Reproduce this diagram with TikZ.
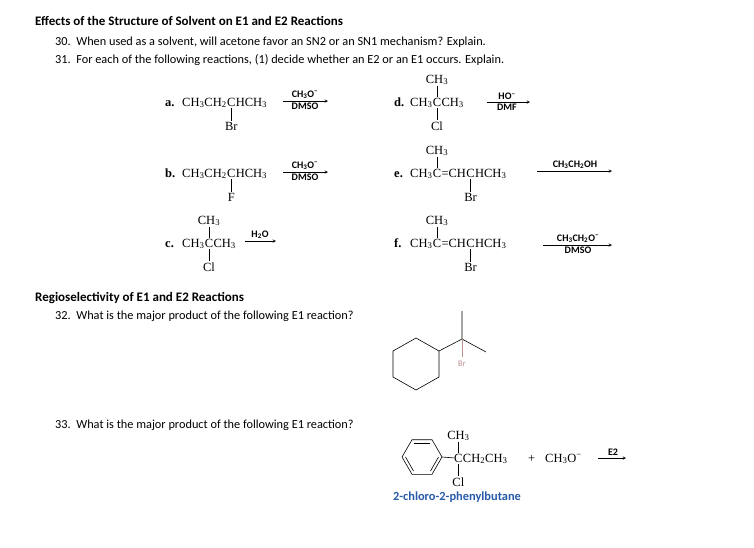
\documentclass[tikz,border=0pt]{standalone}
\usepackage{fontspec}
\setmainfont{Carlito}
\newfontfamily\chem{Liberation Serif}
\newcommand{\sbs}[1]{\textsubscript{#1}}
\newcommand{\sps}[1]{\textsuperscript{#1}}
\begin{document}
\begin{tikzpicture}[x=1pt,y=-1pt,
  ch/.style={inner sep=0pt,font=\chem\fontsize{12.5}{14}\selectfont,anchor=base west},
  chc/.style={inner sep=0pt,font=\chem\fontsize{12.5}{14}\selectfont,anchor=base},
  lab/.style={inner sep=0pt,font=\chem\bfseries\fontsize{12.5}{14}\selectfont,anchor=base west},
  rg/.style={inner sep=2pt,font=\bfseries\fontsize{10}{11}\selectfont},
  q/.style={inner sep=0pt,anchor=base west,font=\fontsize{12.3}{14}\selectfont},
  hd/.style={inner sep=0pt,anchor=base west,font=\bfseries\fontsize{13}{15}\selectfont},
  bd/.style={line width=0.5pt},
  rx/.style={->,line width=0.5pt,>=stealth},
  sk/.style={line width=0.6pt}]
\useasboundingbox (0,0) rectangle (754,547);
\fill[white] (0,0) rectangle (754,547);
\node[hd] (h1) at (35,25) {Effects of the Structure of Solvent on E1 and E2 Reactions};
\node[q] (q30) at (55,45) {30.\ \ When used as a solvent, will acetone favor an SN2 or an SN1 mechanism? Explain.};
\node[q] (q31) at (55,63) {31.\ \ For each of the following reactions, (1) decide whether an E2 or an E1 occurs. Explain.};
% a
\node[lab] (la) at (165,106) {a.};
\node[ch] (a1) at (182,106) {CH\sbs3CH\sbs2};
\node[ch] (a2) at (a1.base east) {C};
\node[ch] (a3) at (a2.base east) {HCH\sbs3};
\node[chc] (abr) at ([yshift=-24]a2.base) {Br};
\draw[bd] ([yshift=-2]a2.south) -- ([yshift=1]abr.north);
\draw[rx] (283,101) -- (328,101);
\node[rg,above] at (305,101) {CH\sbs3O\sps{\textminus}};
\node[rg,below] at (305,101) {DMSO};
% b
\node[lab] (lb) at (165,177) {b.};
\node[ch] (b1) at (182,177) {CH\sbs3CH\sbs2};
\node[ch] (b2) at (b1.base east) {C};
\node[ch] (b3) at (b2.base east) {HCH\sbs3};
\node[chc] (bf) at ([yshift=-24]b2.base) {F};
\draw[bd] ([yshift=-2]b2.south) -- ([yshift=1]bf.north);
\draw[rx] (283,172) -- (328,172);
\node[rg,above] at (305,172) {CH\sbs3O\sps{\textminus}};
\node[rg,below] at (305,172) {DMSO};
% c
\node[lab] (lc) at (165,247) {c.};
\node[ch] (c1) at (182,247) {CH\sbs3};
\node[ch] (c2) at (c1.base east) {C};
\node[ch] (c3) at (c2.base east) {CH\sbs3};
\node[chc] (ccl) at ([yshift=-24]c2.base) {Cl};
\node[chc] (cme) at ([yshift=23]c2.base) {CH\sbs3};
\draw[bd] ([yshift=-2]c2.south) -- ([yshift=1]ccl.north);
\draw[bd] ([yshift=1]c2.north) -- ([yshift=-1]cme.south);
\draw[rx] (245,241) -- (276,241);
\node[rg,above] at (260,241) {H\sbs2O};
% d
\node[lab] (ld) at (394,106) {d.};
\node[ch] (d1) at (410,106) {CH\sbs3};
\node[ch] (d2) at (d1.base east) {C};
\node[ch] (d3) at (d2.base east) {CH\sbs3};
\node[chc] (dcl) at ([yshift=-24]d2.base) {Cl};
\node[chc] (dme) at ([yshift=23]d2.base) {CH\sbs3};
\draw[bd] ([yshift=-2]d2.south) -- ([yshift=1]dcl.north);
\draw[bd] ([yshift=1]d2.north) -- ([yshift=-1]dme.south);
\draw[rx] (487,102) -- (530,102);
\node[rg,above] at (507,102) {HO\sps{\textminus}};
\node[rg,below] at (507,102) {DMF};
% e
\node[lab] (le) at (394,177) {e.};
\node[ch] (e1) at (410,177) {CH\sbs3};
\node[ch] (e2) at (e1.base east) {C};
\node[ch] (e3) at (e2.base east) {=CH};
\node[ch] (e4) at (e3.base east) {C};
\node[ch] (e5) at (e4.base east) {HCH\sbs3};
\node[chc] (eme) at ([yshift=23]e2.base) {CH\sbs3};
\draw[bd] ([yshift=1]e2.north) -- ([yshift=-1]eme.south);
\node[chc] (ebr) at ([yshift=-24]e4.base) {Br};
\draw[bd] ([yshift=-2]e4.south) -- ([yshift=1]ebr.north);
\draw[rx] (537,171) -- (612,171);
\node[rg,above] at (575,171) {CH\sbs3CH\sbs2OH};
% f
\node[lab] (lf) at (394,247) {f.};
\node[ch] (f1) at (410,247) {CH\sbs3};
\node[ch] (f2) at (f1.base east) {C};
\node[ch] (f3) at (f2.base east) {=CH};
\node[ch] (f4) at (f3.base east) {C};
\node[ch] (f5) at (f4.base east) {HCH\sbs3};
\node[chc] (fme) at ([yshift=23]f2.base) {CH\sbs3};
\draw[bd] ([yshift=1]f2.north) -- ([yshift=-1]fme.south);
\node[chc] (fbr) at ([yshift=-24]f4.base) {Br};
\draw[bd] ([yshift=-2]f4.south) -- ([yshift=1]fbr.north);
\draw[rx] (543,245) -- (612,245);
\node[rg,above] at (578,245) {CH\sbs3CH\sbs2O\sps{\textminus}};
\node[rg,below] at (578,245) {DMSO};
% regio
\node[hd] (h2) at (35,301) {Regioselectivity of E1 and E2 Reactions};
\node[q] (q32) at (55,319) {32.\ \ What is the major product of the following E1 reaction?};
\node[q] (q33) at (55,428) {33.\ \ What is the major product of the following E1 reaction?};
% skeletal
\draw[sk] (416,338) -- (439,351) -- (439,377) -- (416,390) -- (393,377) -- (393,351) -- cycle;
\coordinate (qc) at (462,339);
\draw[sk] (439,351) -- (qc) -- (462,311);
\draw[sk] (qc) -- (486,352);
\draw[line width=0.6pt,color=red!25!gray!70] (qc) -- (462,357);
\node[inner sep=0pt,font=\fontsize{8.5}{10}\selectfont,text=red!25!gray!70] (sbr) at (462,364) {Br};
% benzene 33
\draw[sk] (442,457) -- (432,439.7) -- (412,439.7) -- (402,457) -- (412,474.3) -- (432,474.3) -- cycle;
\draw[sk] (414,443) -- (430,443);
\draw[sk] (405.5,457) -- (413.5,471);
\draw[sk] (438.5,457) -- (430.5,471);
\node[ch] (g1) at (454,462) {C};
\node[ch] (g2) at (g1.base east) {CH\sbs2CH\sbs3};
\draw[sk] (442,457) -- (g1.west);
\node[chc] (gme) at ([yshift=23]g1.base) {CH\sbs3};
\node[chc] (gcl) at ([yshift=-24]g1.base) {Cl};
\draw[bd] ([yshift=1]g1.north) -- ([yshift=-1]gme.south);
\draw[bd] ([yshift=-2]g1.south) -- ([yshift=1]gcl.north);
\node[ch] (plus) at (528,462) {+};
\node[ch] (meo) at (545,462) {CH\sbs3O\sps{\textminus}};
\draw[rx] (598,458) -- (626,458);
\node[rg,above] at (613,458) {E2};
\node[inner sep=0pt,font=\bfseries\fontsize{12.4}{14}\selectfont,text={rgb,255:red,40;green,90;blue,170}] (nm) at (457,497) {2-chloro-2-phenylbutane};
\end{tikzpicture}
\end{document}
